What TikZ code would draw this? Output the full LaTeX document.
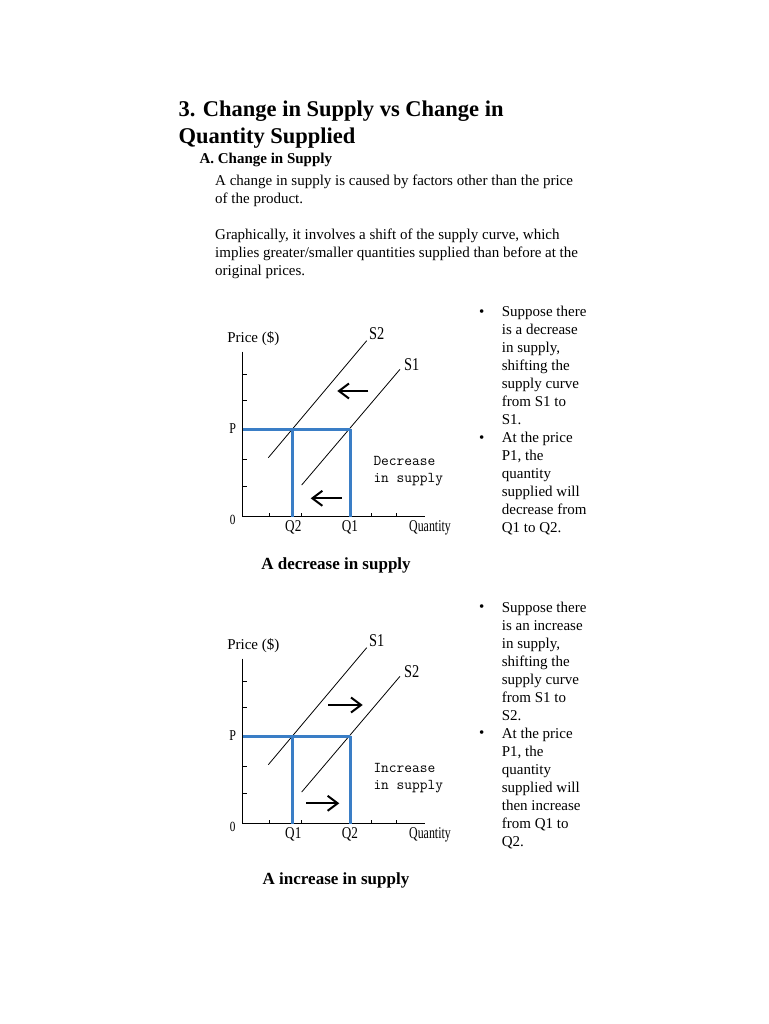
\documentclass[tikz,border=0pt]{standalone}
\usepackage{fontspec}
\setmainfont{Liberation Serif}
\newfontfamily\graphserif[FakeStretch=0.8]{Liberation Serif}
\newfontfamily\graphnarrow[FakeStretch=0.72]{Liberation Serif}
\usetikzlibrary{arrows.meta}
\definecolor{qblue}{HTML}{3A7EC6}

\begin{document}
\begin{tikzpicture}[x=1pt, y=-1pt,
    txt/.style={inner sep=0pt, align=left, anchor=north west},
    axis/.style={black, line width=0.9pt},
    curve/.style={black, line width=0.8pt},
    qline/.style={qblue, line width=3pt},
    shiftarrow/.style={line width=2pt, -{Straight Barb[length=10pt,width=15pt]}},
    lab/.style={inner sep=0pt, font=\graphserif\fontsize{16.5}{16.5}\selectfont}]
  \fill[white] (0,0) rectangle (768,1024);
  \useasboundingbox (0,0) rectangle (768,1024);
  % heading and text
  \node[txt, font=\bfseries\fontsize{22.5}{27}\selectfont] (title) at (178.3,100.7)
    {3. Change in Supply vs Change in\\Quantity Supplied};
  \node[anchor=base west, inner sep=0pt, font=\bfseries\fontsize{15}{18}\selectfont] (secA) at (199.3,164)
    {A. Change in Supply};
  \node[txt, font=\fontsize{15}{18}\selectfont] (intro) at (215,174.9)
    {A change in supply is caused by factors other than the price\\of the product.\\[18pt]
     Graphically, it involves a shift of the supply curve, which\\implies greater/smaller quantities supplied than before at the\\original prices.};
  % the two graphs
  \foreach \dy/\lname/\rname/\qlname/\qrname/\word/\ua/\ub/\uy/\la/\lb/\ly in
      {0/S2/S1/Q2/Q1/Decrease/368.3/337.3/391/341.7/310.7/498.3,
       307/S1/S2/Q1/Q2/Increase/328.3/362.7/398/306/339.3/496.3} {
    \begin{scope}[yshift=-\dy pt]
      \coordinate (top\dy) at (242.7,351.7);
      \coordinate (orig\dy) at (242.7,516.7);
      \coordinate (xend\dy) at (425,516.7);
      \draw[axis] (top\dy) -- (orig\dy) -- (xend\dy);
      \foreach \t in {374.3,400.7,459.3,486.7} { \draw[axis] (242.7,\t) -- ++(4.6,0); }
      \foreach \t in {269.3,301.7,371.7,396.7} { \draw[axis] (\t,516.7) -- ++(0,-4.2); }
      % supply curves
      \coordinate (la\dy) at (268.3,457.7);
      \coordinate (lb\dy) at (366.7,340.7);
      \coordinate (ra\dy) at (301.7,485);
      \coordinate (rb\dy) at (400,369.3);
      \draw[curve] (la\dy) -- (lb\dy);
      \draw[curve] (ra\dy) -- (rb\dy);
      % price and quantities
      \coordinate (pp\dy) at (242.7,429);
      \coordinate (el\dy) at (292.7,429);
      \coordinate (er\dy) at (350,429);
      \coordinate (ql\dy) at (292.7,516.7);
      \coordinate (qr\dy) at (350,516.7);
      \draw[qline] (pp\dy) -- (er\dy);
      \draw[qline] (el\dy) -- (ql\dy);
      \draw[qline] (er\dy) -- (qr\dy);
      % shifts
      \coordinate (ua\dy) at (\ua,\uy);
      \coordinate (ub\dy) at (\ub,\uy);
      \coordinate (lwa\dy) at (\la,\ly);
      \coordinate (lwb\dy) at (\lb,\ly);
      \draw[shiftarrow] (ua\dy) -- (ub\dy);
      \draw[shiftarrow] (lwa\dy) -- (lwb\dy);
      % labels
      \node[inner sep=0pt, font=\fontsize{15}{15}\selectfont] (price\dy) at (253.3,338.3) {Price (\$)};
      \node[inner sep=0pt, font=\graphserif\fontsize{18}{18}\selectfont] (sl\dy) at (376.7,333.3) {\lname};
      \node[inner sep=0pt, font=\graphserif\fontsize{18}{18}\selectfont] (sr\dy) at (411.7,365) {\rname};
      \node[lab, font=\graphserif\fontsize{15}{15}\selectfont] (plab\dy) at (232.7,429) {P};
      \node[lab, font=\graphserif\fontsize{14}{14}\selectfont] (zero\dy) at (232.7,520) {0};
      \node[lab] (qll\dy) at (293.3,527.3) {\qlname};
      \node[lab] (qrl\dy) at (350,527.3) {\qrname};
      \node[lab, font=\graphnarrow\fontsize{16.5}{16.5}\selectfont] (qty\dy) at (430,528.3) {Quantity};
      \node[txt, font=\ttfamily\fontsize{15}{17}\selectfont] (word\dy) at (373.3,456.5) {\word\\in supply};
    \end{scope}
  }
  % captions
  \node[anchor=base, inner sep=0pt, font=\bfseries\fontsize{17}{17}\selectfont] (capA) at (336,569.3) {A decrease in supply};
  \node[anchor=base, inner sep=0pt, font=\bfseries\fontsize{17}{17}\selectfont] (capB) at (336,884.3) {A increase in supply};
  % bullet notes
  \foreach \n/\y in {dA1/316, dA2/442, dB1/611.7, dB2/737.7} {
    \node[anchor=base, inner sep=0pt, font=\fontsize{15}{18}\selectfont] (\n) at (481.7,\y) {\textbullet};
  }
  \node[txt, font=\fontsize{15}{18}\selectfont] (noteA1) at (501.7,305.7)
    {Suppose there\\is a decrease\\in supply,\\shifting the\\supply curve\\from S1 to\\S1.};
  \node[txt, font=\fontsize{15}{18}\selectfont] (noteA2) at (501.7,431.7)
    {At the price\\P1, the\\quantity\\supplied will\\decrease from\\Q1 to Q2.};
  \node[txt, font=\fontsize{15}{18}\selectfont] (noteB1) at (501.7,601.4)
    {Suppose there\\is an increase\\in supply,\\shifting the\\supply curve\\from S1 to\\S2.};
  \node[txt, font=\fontsize{15}{18}\selectfont] (noteB2) at (501.7,727.4)
    {At the price\\P1, the\\quantity\\supplied will\\then increase\\from Q1 to\\Q2.};
\end{tikzpicture}
\end{document}
